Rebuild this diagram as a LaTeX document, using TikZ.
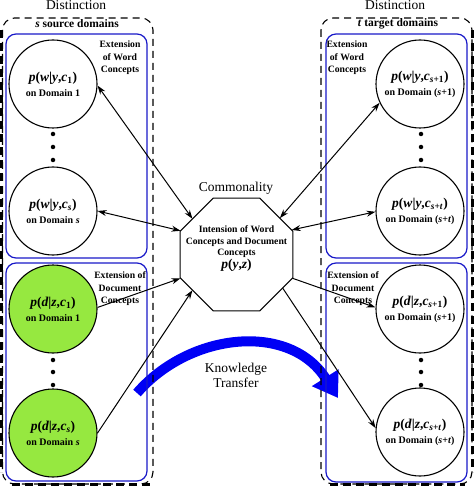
\documentclass[tikz,border=0pt]{standalone}
\usepackage{fontspec}
\setmainfont{Liberation Serif}
\usetikzlibrary{shapes.geometric,arrows.meta}
\definecolor{boxblue}{RGB}{25,25,200}
\definecolor{lgreen}{RGB}{150,232,64}
\definecolor{arrowblue}{RGB}{0,0,245}
\newcommand\cprob[3]{{\fontsize{13.5}{15}\selectfont\bfseries\textit{p}(\textit{#1}|\textit{#2},\textit{c}\textsubscript{#3})}}
\newcommand\cdom[1]{{\fontsize{10}{12}\selectfont\bfseries on Domain #1}}
\begin{document}
\begin{tikzpicture}[x=1pt,y=-1pt,
  circ/.style={circle,draw,line width=1.1pt,minimum size=88pt,inner sep=0pt,align=center,font=\fontsize{10}{15}\selectfont},
  gcirc/.style={circ,fill=lgreen},
  blk/.style={draw=boxblue,line width=1.2pt,rounded corners=10pt},
  dbox/.style={draw,line width=1.1pt,rounded corners=12pt,dash pattern=on 7pt off 5pt},
  thickdash/.style={draw,line width=3pt,dash pattern=on 8pt off 5pt},
  conn/.style={line width=1pt,{Stealth[length=9pt,width=6pt]}-{Stealth[length=9pt,width=6pt]}},
  conn1/.style={line width=1pt,-{Stealth[length=9pt,width=6pt]}},
  lab/.style={font=\fontsize{9.7}{12.5}\selectfont\bfseries,align=center,inner sep=0pt},
  big/.style={font=\fontsize{13.5}{15}\selectfont,align=center,inner sep=0pt},
  dotm/.style={circle,fill,inner sep=0pt,minimum size=4.5pt}]
\useasboundingbox (0,0) rectangle (474,486);
% knowledge transfer arrow
\draw[arrowblue,line width=10pt,-{Triangle[width=30pt,length=24pt]}] (137,393) .. controls (190,332) and (290,322) .. (338,398);
% dashed outer boxes
\draw[dbox] (2.5,18) rectangle (153,484);
\draw[thickdash] (1.5,30) -- (1.5,472);
\draw[thickdash] (12,484.5) -- (150,484.5);
\draw[dbox] (321,18) rectangle (472,484);
\draw[thickdash] (472.5,30) -- (472.5,472);
\draw[thickdash] (330,484.5) -- (465,484.5);
% blue boxes
\draw[blk] (6,34) rectangle (147,258);
\draw[blk] (6,263) rectangle (147,481);
\draw[blk] (326,34) rectangle (467,258);
\draw[blk] (326,263) rectangle (467,482);
% titles
\node[big,anchor=base] (dl) at (76,10) {Distinction};
\node[big,anchor=base] (dr) at (395,10) {Distinction};
\node[font=\fontsize{11.5}{13}\selectfont\bfseries,inner sep=0pt] (sl) at (77,24) {\textit{s} source domains};
\node[font=\fontsize{11.5}{13}\selectfont\bfseries,inner sep=0pt] (tr) at (398,24) {\textit{t} target domains};
% circles
\node[circ] (w1) at (53,84) {\cprob{w}{y}{1}\\\cdom{1}};
\node[circ] (ws) at (53,211) {\cprob{w}{y}{\textit{s}}\\\cdom{\textit{s}}};
\node[gcirc] (d1) at (53,309) {\cprob{d}{z}{1}\\\cdom{1}};
\node[gcirc] (ds) at (53,433) {\cprob{d}{z}{\textit{s}}\\\cdom{\textit{s}}};
\node[circ] (wS1) at (420,84) {\cprob{w}{y}{\textit{s}+1}\\\cdom{(\textit{s}+1)}};
\node[circ] (wST) at (420,211) {\cprob{w}{y}{\textit{s}+\textit{t}}\\\cdom{(\textit{s}+\textit{t})}};
\node[circ] (dS1) at (420,309) {\cprob{d}{z}{\textit{s}+1}\\\cdom{(\textit{s}+1)}};
\node[circ] (dST) at (420,432) {\cprob{d}{z}{\textit{s}+\textit{t}}\\\cdom{(\textit{s}+\textit{t})}};
% dots
\foreach \yy in {134,147,160} {\node[dotm] at (53,\yy) {}; \node[dotm] at (421,\yy) {};}
\foreach \yy in {360,372,385} {\node[dotm] at (53,\yy) {}; \node[dotm] at (421,\yy) {};}
% extension labels
\node[lab] (ewl) at (120,58) {Extension\\of Word\\Concepts};
\node[lab] (ewr) at (347,58) {Extension\\of Word\\Concepts};
\node[lab] (edl) at (120,289) {Extension of\\Document\\Concepts};
\node[lab] (edr) at (353,289) {Extension of\\Document\\Concepts};
% octagon
\node[regular polygon,regular polygon sides=8,draw,line width=1.1pt,minimum size=122pt,inner sep=0pt,outer sep=0pt,fill=white] (oct) at (236.5,254.5) {};
\node[lab,font=\fontsize{9.7}{11.5}\selectfont\bfseries] (octtxt) at (236.5,249) {Intension of Word\\Concepts and Document\\Concepts\\[1.5pt]{\fontsize{13.5}{15}\selectfont\textit{p}(\textit{y},\textit{z})}};
\node[big] (comm) at (236,188) {Commonality};
\node[big] (kt) at (236,375) {Knowledge\\Transfer};
% connectors
\draw[conn] (w1.-2) -- (oct.141);
\draw[conn] (ws.0) -- (oct.157);
\draw[conn1] (d1.2) -- (oct.203);
\draw[conn1] (ds.0) -- (oct.219);
\draw[conn] (oct.40) -- (wS1.205);
\draw[conn] (oct.24) -- (wST.181);
\draw[conn1] (oct.-23) -- (dS1.178);
\draw[conn1] (oct.-36) -- (dST.175);
\end{tikzpicture}
\end{document}
